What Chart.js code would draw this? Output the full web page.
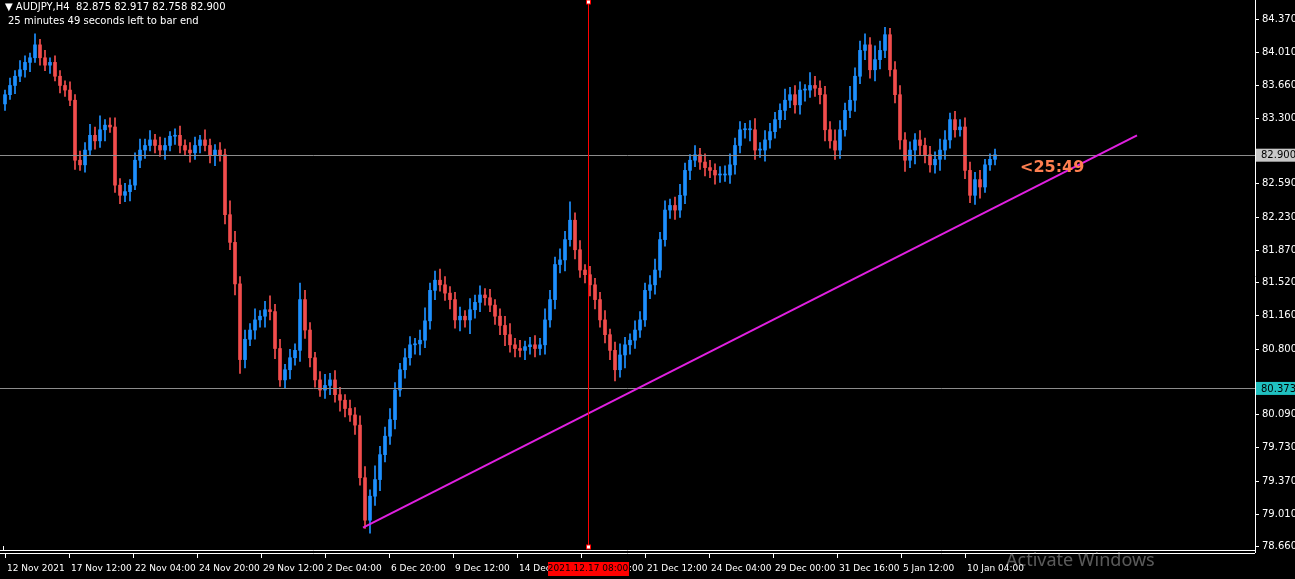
<!DOCTYPE html>
<html><head><meta charset="utf-8">
<script src="https://cdn.jsdelivr.net/npm/chart.js@4/dist/chart.umd.min.js"></script>
<style>html,body{margin:0;background:#000;overflow:hidden}#wrap{width:1295px;height:579px;position:relative}</style>
</head><body><div id="wrap"><canvas id="c"></canvas></div>
<script>
// 4h closes, read left to right
const closes = [83.55,83.65,83.75,83.82,83.90,83.95,84.09,83.95,83.87,83.90,83.75,83.65,83.60,83.49,
82.84,82.79,82.95,83.11,83.05,83.17,83.22,83.20,82.57,82.46,82.50,82.57,82.84,82.95,83.00,83.06,83.00,82.95,83.00,83.10,83.11,83.00,82.95,82.92,83.00,83.06,83.00,82.90,82.95,82.90,
82.25,81.95,81.50,80.68,80.90,81.00,81.11,81.15,81.22,81.20,80.80,80.46,80.57,80.70,80.78,81.33,81.00,80.70,80.46,80.35,80.40,80.46,80.30,80.24,80.15,80.08,79.97,79.40,78.94,79.20,79.38,79.65,79.85,80.03,80.35,80.57,80.70,80.84,80.85,80.89,81.10,81.43,81.54,81.49,81.40,81.33,81.11,81.15,81.11,81.22,81.30,81.38,81.35,81.27,81.15,81.05,80.95,80.84,80.80,80.78,80.82,80.84,80.80,80.84,81.11,
81.33,81.71,81.76,81.98,82.19,81.87,81.65,81.60,81.49,81.33,81.11,80.95,80.78,80.57,80.73,80.84,80.89,81.00,81.11,81.43,81.49,81.65,81.98,82.30,82.35,82.30,82.46,82.73,82.84,82.90,82.82,82.76,82.73,82.68,82.68,82.68,82.79,83.00,83.17,83.17,83.17,82.95,82.95,83.06,83.15,83.28,83.38,83.49,83.55,83.44,83.60,83.60,83.65,83.62,83.55,83.17,83.05,82.95,83.17,83.38,83.49,83.75,84.03,84.09,83.82,83.93,84.03,84.20,83.82,83.55,83.06,82.84,82.95,83.06,83.00,82.90,82.79,82.85,82.95,83.06,83.28,83.17,83.20,82.73,82.46,82.63,82.55,82.79,82.85,82.90];
const firstOpen = 83.45;
// wick lengths in pips above / below the body
const wickUp = [5,8,6,10,7,5,12,6,8,5,7,6,5,9,
6,10,8,12,9,15,6,8,10,7,9,6,8,12,7,10,6,9,8,5,7,10,6,8,9,5,11,7,6,8,
6,15,12,8,10,7,12,6,9,15,8,10,6,9,7,18,10,8,6,9,12,7,10,8,6,9,8,10,12,7,15,9,10,12,8,7,10,9,6,11,14,8,10,12,9,7,8,10,6,12,8,10,7,9,6,8,10,12,7,9,6,8,10,7,12,
10,8,12,9,20,8,10,6,9,7,8,10,6,9,12,8,7,10,9,8,10,12,8,10,7,9,12,8,6,10,7,9,8,7,9,10,12,8,9,7,10,12,8,10,9,8,7,12,8,10,9,6,14,10,8,9,9,12,10,8,15,9,10,12,8,15,10,8,7,9,10,8,9,7,10,8,9,8,12,10,7,9,8,10,9,8,10];
const wickDn = [7,5,9,6,8,10,5,8,6,9,5,8,7,6,
10,6,8,5,9,7,12,6,8,9,7,10,5,8,9,6,8,7,10,6,9,8,5,10,7,8,6,9,12,7,
10,8,12,15,9,7,10,8,12,9,11,7,9,10,8,12,9,10,8,7,9,10,8,12,9,7,10,8,9,14,10,12,8,9,10,7,9,8,10,12,8,9,10,7,8,10,9,12,8,15,9,10,8,7,9,10,12,8,9,7,10,8,9,7,10,
8,10,9,12,7,10,8,9,12,10,8,9,10,12,8,14,10,9,8,7,9,10,8,7,9,10,8,9,10,7,8,9,8,10,8,7,9,10,8,9,12,10,8,12,9,7,9,10,8,9,10,12,8,9,10,12,8,10,9,7,8,12,8,10,9,12,10,8,7,9,10,12,8,15,10,9,8,9,12,10,9,8,7,9,8,10,12];
const yTicks = [84.370,84.010,83.660,83.300,82.590,82.230,81.870,81.520,81.160,80.800,80.090,79.730,79.370,79.010,78.660];
const dateLabels = ['12 Nov 2021','17 Nov 12:00','22 Nov 04:00','24 Nov 20:00','29 Nov 12:00','2 Dec 04:00','6 Dec 20:00','9 Dec 12:00','14 Dec 04:00','17 Dec 20:00','21 Dec 12:00','24 Dec 04:00','29 Dec 00:00','31 Dec 16:00','5 Jan 12:00','10 Jan 04:00'];
const bidLine = 82.900, levelLine = 80.373;
const trend = [[71.6, 78.86], [226.4, 83.11]];
const cursorIdx = 116.6, cursorLabel = '2021.12.17 08:00';

const N = closes.length;
const step = 5;
const opens = closes.map((c, i) => i ? closes[i - 1] : firstOpen);
const bull = closes.map((c, i) => c >= opens[i]);
const col = bull.map(b => b ? '#1e90ff' : '#f24d4d');
const bodies = closes.map((c, i) => ({x: i, y: [opens[i], c]}));
const wicks = closes.map((c, i) => ({x: i,
  y: [Math.min(opens[i], c) - (wickDn[i] || 6) / 100, Math.max(opens[i], c) + (wickUp[i] || 6) / 100]}));

const overlay = {
  id: 'overlay',
  afterDatasetsDraw(ch) {
    const {ctx, chartArea: a, scales: {x, y}} = ch;
    ctx.save();
    ctx.lineWidth = 1;
    ctx.font = '10px "DejaVu Sans", sans-serif';
    ctx.textBaseline = 'middle'; ctx.textAlign = 'left';
    // price axis labels
    ctx.fillStyle = '#fff';
    yTicks.forEach(v => {
      const py = Math.round(y.getPixelForValue(v));
      ctx.fillRect(a.right, py, 4, 1);
      ctx.fillText(v.toFixed(3), a.right + 7, py);
    });
    // horizontal lines
    ctx.strokeStyle = '#8c8c8c';
    [bidLine, levelLine].forEach(v => {
      const py = Math.round(y.getPixelForValue(v)) + 0.5;
      ctx.beginPath(); ctx.moveTo(a.left, py); ctx.lineTo(a.right, py); ctx.stroke();
    });
    // trendline
    ctx.strokeStyle = '#e020e0'; ctx.lineWidth = 2;
    ctx.beginPath();
    ctx.moveTo(x.getPixelForValue(trend[0][0]), y.getPixelForValue(trend[0][1]));
    ctx.lineTo(x.getPixelForValue(trend[1][0]), y.getPixelForValue(trend[1][1]));
    ctx.stroke();
    // cursor line
    const cx = Math.round(x.getPixelForValue(cursorIdx));
    ctx.fillStyle = '#ff0000';
    ctx.fillRect(cx, a.top, 1, a.bottom - a.top - 2);
    ctx.fillStyle = '#fff'; ctx.strokeStyle = '#ff0000'; ctx.lineWidth = 1;
    [a.top + 2, a.bottom - 3].forEach(py => { ctx.fillRect(cx - 1.5, py - 2, 4, 4); ctx.strokeRect(cx - 1.5, py - 2, 4, 4); });
    // frame
    ctx.strokeStyle = '#ffffff';
    ctx.beginPath();
    ctx.moveTo(a.right + 0.5, 0); ctx.lineTo(a.right + 0.5, a.bottom + 3);
    ctx.moveTo(0, a.bottom + 0.5); ctx.lineTo(a.right, a.bottom + 0.5);
    ctx.moveTo(0, a.bottom + 3.5); ctx.lineTo(a.right, a.bottom + 3.5);
    ctx.moveTo(3.5, a.bottom); ctx.lineTo(3.5, a.bottom - 4);
    ctx.stroke();
    // bottom date labels
    ctx.font = '9px "DejaVu Sans", sans-serif';
    dateLabels.forEach((t, k) => {
      const px = x.getPixelForValue(k * 64 / step);
      ctx.fillStyle = '#fff';
      ctx.fillText(t, px + 2, 569);
      ctx.fillRect(Math.round(px), a.bottom + 4, 1, 4);
    });
    ctx.fillStyle = '#ff0000';
    ctx.fillRect(cx - 40, 562, 81, 14);
    ctx.fillStyle = '#000'; ctx.textAlign = 'center';
    ctx.fillText(cursorLabel, cx, 569);
    // right price boxes
    ctx.font = '10px "DejaVu Sans", sans-serif';
    ctx.textAlign = 'left';
    [[bidLine, '#c8c8c8', '82.900'], [levelLine, '#20c0c0', '80.373']].forEach(([v, c, t]) => {
      const py = y.getPixelForValue(v);
      ctx.fillStyle = c; ctx.fillRect(a.right + 1, py - 6, 40, 13);
      ctx.fillStyle = '#000'; ctx.fillText(t, a.right + 6, py + 1);
    });
    // header text
    ctx.fillStyle = '#fff';
    ctx.fillText('▼ AUDJPY,H4  82.875 82.917 82.758 82.900', 5, 7);
    ctx.fillText('25 minutes 49 seconds left to bar end', 8, 21);
    ctx.fillStyle = '#ff7f50';
    ctx.font = 'bold 16px "DejaVu Sans", sans-serif';
    ctx.fillText('<25:49', 1020, 168);
    ctx.fillStyle = 'rgba(200,200,200,0.45)';
    ctx.font = '18px "Noto Sans", sans-serif';
    ctx.fillText('Activate Windows', 1006, 561);
    ctx.restore();
  }
};

new Chart(document.getElementById('c'), {
  type: 'bar',
  data: {
    datasets: [
      {data: wicks, backgroundColor: col, barThickness: 1, grouped: false},
      {data: bodies, backgroundColor: col, barThickness: 3, minBarLength: 1, grouped: false}
    ]
  },
  options: {
    responsive: true, maintainAspectRatio: false, animation: false,
    layout: {padding: {top: 0, left: 0, right: 40, bottom: 29}},
    plugins: {legend: {display: false}, tooltip: {enabled: false}},
    scales: {
      x: {type: 'linear', offset: false, min: -5 / step, max: 1250 / step, display: false},
      y: {min: 78.617, max: 84.576, display: false}
    }
  },
  plugins: [overlay, {id: 'bg', beforeDraw(ch) { ch.ctx.fillStyle = '#000'; ch.ctx.fillRect(0, 0, ch.width, ch.height); }}]
});
</script></body></html>
